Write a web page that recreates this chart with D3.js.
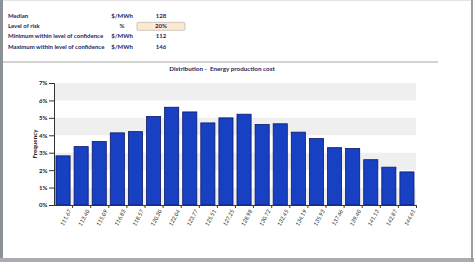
<!DOCTYPE html>
<html><head><meta charset="utf-8">
<script src="https://cdn.jsdelivr.net/npm/d3@7"></script>
<style>
body{margin:0;background:#fff;}
svg{display:block;font-family:Lato,"Open Sans",sans-serif;}
</style></head>
<body>
<svg id="c" width="474" height="262"></svg>
<script>
const binLabels = ["111.67","113.40","115.09","116.83","118.57","120.30","122.04","123.77","125.51","127.25","128.98","130.72","132.45","134.19","135.93","137.66","139.40","141.13","142.87","144.61"];
const frequency = [0.0282,0.0335,0.0364,0.0414,0.0421,0.0508,0.0561,0.0534,0.0471,0.0500,0.0521,0.0462,0.0466,0.0418,0.0381,0.0329,0.0324,0.0260,0.0217,0.0190];
const yTicks = [0,0.01,0.02,0.03,0.04,0.05,0.06,0.07];
const statLabels = ["Median","Level of risk","Minimum within level of confidence","Maximum within level of confidence"];
const statUnits = ["$/MWh","%","$/MWh","$/MWh"];
const statValues = ["128","20%","112","146"];
const chartTitle = "Distribution -  Energy production cost";

const svg = d3.select("#c");
const navy = "#1b1f5e";
const ff = "Lato, 'Open Sans', sans-serif";

// frame
svg.append("rect").attr("x",0).attr("y",0).attr("width",474).attr("height",262).attr("fill","#fff");
svg.append("rect").attr("x",0).attr("y",0).attr("width",3).attr("height",262).attr("fill","#8c9196");
svg.append("rect").attr("x",0).attr("y",258).attr("width",474).attr("height",4).attr("fill","#a9adb1");
svg.append("rect").attr("x",471).attr("y",0).attr("width",2).attr("height",262).attr("fill","#9a9ea2");
svg.append("line").attr("x1",3).attr("x2",471).attr("y1",0.5).attr("y2",0.5).attr("stroke","#e4e4e4");

// stats table
const rowY = d3.scalePoint().domain(statLabels).range([17.5,48.5]);
const tbl = svg.append("g").attr("font-size",6).attr("font-weight",700).attr("fill",navy);
tbl.append("rect").attr("x",137).attr("y",rowY(statLabels[1])-5.5).attr("width",48).attr("height",8)
  .attr("fill","#fde9cf").attr("stroke","#b9b3aa").attr("stroke-width",0.7).attr("rx",1);
statLabels.forEach((l,i)=>{
  tbl.append("text").attr("x",8).attr("y",rowY(l)).text(l);
  tbl.append("text").attr("x",122).attr("y",rowY(l)).attr("text-anchor","middle").text(statUnits[i]);
  tbl.append("text").attr("x",161).attr("y",rowY(l)).attr("text-anchor","middle").text(statValues[i]);
});

// separator
svg.append("line").attr("x1",3).attr("x2",438).attr("y1",62).attr("y2",62).attr("stroke","#c4c4c4").attr("stroke-width",1.5);

// title
svg.append("text").attr("x",222).attr("y",70.5).attr("text-anchor","middle").style("white-space","pre")
  .attr("font-size",6.3).attr("font-weight",700).attr("fill",navy).text(chartTitle);

// scales
const x0 = 54, x1 = 416, yb = 205, yt = 83;
const x = d3.scaleBand().domain(binLabels).range([x0,x1]).padding(0);
const y = d3.scaleLinear().domain([0,0.07]).range([yb,yt]);
const xTick = d3.scalePoint().domain(binLabels).range([x0 + x.step(), x1]);

// bands
for(let i=0;i<yTicks.length-1;i+=2){
  const lo = yTicks[yTicks.length-2-i], hi = yTicks[yTicks.length-1-i];
  svg.append("rect").attr("x",x0).attr("width",x1-x0).attr("y",y(hi)).attr("height",y(lo)-y(hi)).attr("fill","#efefef");
}

// bars
const bw = x.bandwidth();
svg.append("g").selectAll("rect").data(binLabels).join("rect")
  .attr("x",d=>x(d)+bw*0.11).attr("width",bw*0.78)
  .attr("y",(d,i)=>y(frequency[i])).attr("height",(d,i)=>yb-y(frequency[i]))
  .attr("fill","#1740c2").attr("stroke","#0c1a6a").attr("stroke-width",0.8);

// y axis
const ya = svg.append("g").attr("transform",`translate(${x0},0)`)
  .call(d3.axisLeft(y).tickValues(yTicks).tickFormat(d3.format(".0%")).tickSize(5).tickPadding(1.5));
ya.select(".domain").attr("stroke","#333");
ya.selectAll(".tick line").attr("stroke","#333");
ya.selectAll("text").attr("font-size",6).attr("font-weight",700).attr("fill","#222").attr("font-family",ff);

// x axis
const xa = svg.append("g").attr("transform",`translate(0,${yb})`)
  .call(d3.axisBottom(xTick).tickSize(3).tickSizeOuter(0));
xa.select(".domain").attr("d",`M${x0},0.5H${x1}`).attr("stroke","#333");
xa.selectAll(".tick line").attr("stroke","#4a3a2a");
xa.selectAll("text").attr("font-size",5.6).attr("font-style","italic").attr("fill","#222")
  .attr("font-family",ff)
  .attr("text-anchor","end").attr("dy",0).attr("y",0)
  .attr("transform","translate(-1,6) rotate(-62)");

// y label
svg.append("text").attr("transform","translate(37,144) rotate(-90)").attr("text-anchor","middle")
  .attr("font-size",6.2).attr("font-weight",700).attr("fill","#222").text("Frequency");
</script>
</body></html>
